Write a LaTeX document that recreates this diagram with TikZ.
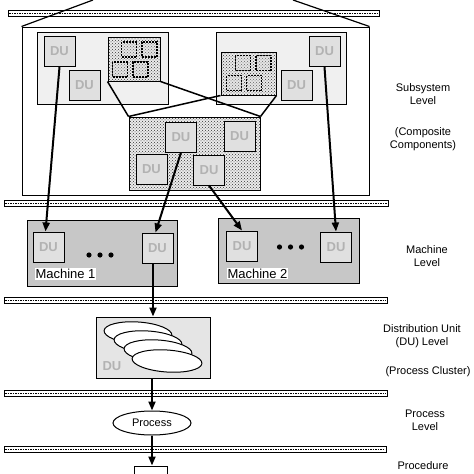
\documentclass[tikz,border=0pt]{standalone}
\usepackage{fontspec}
\setmainfont{Liberation Sans}
\usepackage{tikz}
\usetikzlibrary{calc,positioning,shapes}
\usetikzlibrary{patterns}
\usetikzlibrary{arrows.meta}
\tikzstyle{every node}=[line width=1pt]
\tikzset{>={Triangle[width=7pt,length=9pt]}}

\begin{document}
\begin{tikzpicture}[x=1pt,y=-1pt]
      %%%%%%%%%%%%%%%%%%%%%%%%%%%%%%%%%%%%%%%%%%%%%%%%%%
      %% levels of distribution
      %%%%%%%%%%%%%%%%%%%%%%%%%%%%%%%%%%%%%%%%%%%%%%%%%%
      \tikzstyle{bnode} = [draw, rectangle, fill=white, minimum height=6pt, inner sep=0pt, line width=0.9pt]
      \tikzstyle{snode} = [draw, rectangle, line width=1pt, inner sep=0pt]
      \tikzstyle{dnode} = [draw, rectangle, fill=black!12, line width=1pt, inner sep=0pt, minimum width=31pt, minimum height=30pt, text=black!30, font=\bfseries\fontsize{13}{13}\selectfont]
      \tikzstyle{pnode} = [draw, rectangle, line width=1pt, inner sep=0pt, pattern=crosshatch dots, pattern color=black!80, preaction={fill=black!8}]
      \tikzstyle{qnode} = [draw, rectangle, line width=1.1pt, dash pattern=on 2pt off 1pt, inner sep=0pt, minimum size=15pt, pattern=crosshatch dots, pattern color=black!60, preaction={fill=black!10}]
      \tikzstyle{mnode} = [draw, rectangle, fill=black!22, line width=1pt, inner sep=0pt]
      \tikzstyle{lnode} = [align=center, font=\fontsize{11}{13}\selectfont]
      \tikzstyle{enode} = [draw, ellipse, fill=white, line width=1pt, inner sep=0pt]
      \tikzstyle{link} = [line width=1.5pt]
      \tikzstyle{flow} = [->, line width=2pt]
      \useasboundingbox (0,0) rectangle (474,474);
      \clip (0,0) rectangle (474,474);
      % separators between the levels
      \foreach \n/\x/\y/\w in {bar1/193.5/13/371, bar2/196/203.5/384, bar3/195.5/300/383, bar4/195.5/393.5/383, bar5/195/449/382} {
        \node[bnode, minimum width=\w] (\n) at (\x,\y) {};
        \draw[dash pattern=on 1.5pt off 1pt, line width=0.8pt] ([xshift=1.5pt]\n.west) -- ([xshift=-1.5pt]\n.east);
      }
      % subsystem level
      \coordinate (topL) at (93,0);
      \coordinate (topR) at (293,0);
      \node[snode, fill=white, minimum width=347pt, minimum height=168pt] (subsys) at (195.5,111) {};
      \draw[link, line width=1.2pt] (topL) -- (subsys.north west);
      \draw[link, line width=1.2pt] (topR) -- (subsys.north east);
      \node[snode, fill=black!6, minimum width=131pt, minimum height=72pt] (sub1) at (102.5,68) {};
      \node[snode, fill=black!6, minimum width=130pt, minimum height=72pt] (sub2) at (281,68) {};
      \node[dnode] (duA) at (59.5,51.5) {DU};
      \node[dnode] (duB) at (84.5,85) {DU};
      \node[dnode] (duC) at (324.5,51.5) {DU};
      \node[dnode] (duD) at (296.5,85) {DU};
      \node[pnode, minimum width=52pt, minimum height=44pt] (comp1) at (134,59) {};
      \node[qnode] (q11) at (129,49.5) {};
      \node[qnode] (q12) at (149.5,49.5) {};
      \node[qnode] (q13) at (120,69.5) {};
      \node[qnode] (q14) at (140.5,69.5) {};
      \node[pnode, minimum width=55pt, minimum height=43pt] (comp2) at (248.5,73.5) {};
      \node[qnode] (q21) at (243,63) {};
      \node[qnode] (q22) at (263.5,63) {};
      \node[qnode] (q23) at (234,83) {};
      \node[qnode] (q24) at (254,83) {};
      \node[pnode, minimum width=131pt, minimum height=73pt] (comp3) at (194.5,153.5) {};
      \node[dnode] (duE) at (181,137) {DU};
      \node[dnode] (duF) at (239.5,136.5) {DU};
      \node[dnode] (duG) at (151.5,169.5) {DU};
      \node[dnode] (duH) at (209,170) {DU};
      \draw[link] (comp1.south west) -- (comp3.north west);
      \draw[link] (comp1.south east) -- (comp3.north east);
      \draw[link] (comp2.south west) -- (comp3.north west);
      \draw[link] (comp2.south east) -- (comp3.north east);
      \node[lnode] (lvlS) at (423,94) {Subsystem\\Level};
      \node[lnode] (lvlSc) at (423,139.5) {(Composite\\Components)};
      % machine level
      \node[mnode, minimum width=150pt, minimum height=66pt] (mach1) at (102,253) {};
      \node[mnode, minimum width=141pt, minimum height=65pt] (mach2) at (288.5,250.5) {};
      \node[dnode] (duI) at (48.5,247) {DU};
      \node[dnode] (duJ) at (157.5,248) {DU};
      \node[dnode] (duK) at (242,246) {DU};
      \node[dnode] (duL) at (336,247) {DU};
      \coordinate (dots1) at (100,255);
      \coordinate (dots2) at (290.5,247);
      \foreach \d in {-11,0,11} {
        \fill ([xshift=\d pt]dots1) circle (2.6pt);
        \fill ([xshift=\d pt]dots2) circle (2.6pt);
      }
      \node[fill=white, inner sep=1pt, anchor=west, font=\fontsize{13}{13}\selectfont] (mlab1) at (34,274) {Machine 1};
      \node[fill=white, inner sep=1pt, anchor=west, font=\fontsize{13}{13}\selectfont] (mlab2) at (226,273.5) {Machine 2};
      \node[lnode] (lvlM) at (427,256.5) {Machine\\Level};
      \draw[flow] (duA.south) -- ([xshift=-3pt]duI.north);
      \draw[flow] (duE.south) -- ([xshift=-2pt]duJ.north);
      \draw[flow] (duH.south) -- (duK.north);
      \draw[flow] (duC.south) -- (duL.north);
      % distribution unit level
      \node[snode, fill=black!10, minimum width=114pt, minimum height=61pt] (duLevel) at (153,347.5) {};
      \node[enode, minimum width=68pt, minimum height=22pt, rotate=-4] (el1) at (138,333) {};
      \node[enode, minimum width=68pt, minimum height=22pt, rotate=-4] (el2) at (148,342) {};
      \node[enode, minimum width=68pt, minimum height=22pt, rotate=-4] (el3) at (158,351) {};
      \node[enode, minimum width=70pt, minimum height=22pt, rotate=-4] (el4) at (167,361) {};
      \node[anchor=south west, inner sep=0pt, text=black!30, font=\bfseries\fontsize{13}{13}\selectfont] (duText) at (102,371) {DU};
      \node[lnode] (lvlD) at (422,336.5) {Distribution Unit\\(DU) Level};
      \node[lnode] (lvlDc) at (428,372) {(Process Cluster)};
      \draw[flow] (duLevel.north |- duJ.south) -- (duLevel.north);
      % process level
      \node[enode, minimum width=78pt, minimum height=24pt, font=\fontsize{11}{13}\selectfont] (proc) at (152,423) {Process};
      \node[lnode] (lvlP) at (425,420) {Process\\Level};
      \draw[flow] (duLevel.south -| proc.north) -- (proc.north);
      % procedure level
      \node[snode, fill=white, minimum width=33pt, minimum height=28pt] (procBox) at (150.5,480) {};
      \node[lnode] (lvlR) at (423,466) {Procedure};
      \draw[flow] (proc.south) -- (procBox.north -| proc.south);
\end{tikzpicture}
\end{document}
